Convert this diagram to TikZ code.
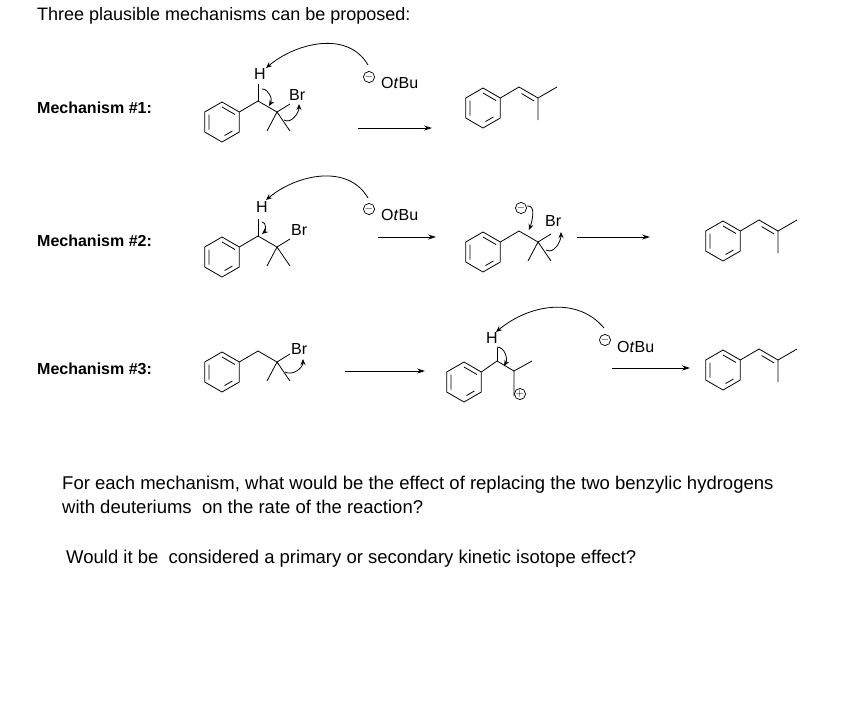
\documentclass[tikz,border=0pt]{standalone}
\usepackage{fontspec}
\setmainfont{Liberation Sans}
\usetikzlibrary{arrows.meta,calc}
\tikzset{bond/.style={line width=0.8pt},
 rxn/.style={line width=0.8pt,-{Stealth[length=8pt,width=5pt]}},
 curly/.style={line width=0.8pt,-{Stealth[length=6pt,width=5pt]}},
 chg/.style={circle,draw,line width=0.7pt,inner sep=0pt,minimum size=11pt,font=\fontsize{11}{11}\selectfont\bfseries},
 lab/.style={font=\fontsize{16}{18}\selectfont,inner sep=0pt},
 qt/.style={font=\fontsize{18.5}{20}\selectfont,anchor=west,inner sep=0pt},
 mech/.style={font=\fontsize{16}{18}\selectfont\bfseries,anchor=west,inner sep=0pt}}
\newcommand\benz[1]{\begin{scope}[shift={(#1)}]
 \draw[bond] (90:20)--(150:20)--(210:20)--(270:20)--(330:20)--(30:20)--cycle;
 \draw[bond,shorten >=3pt,shorten <=3pt] (150:15)--(210:15) (270:15)--(330:15) (30:15)--(90:15);
\end{scope}}
\newcommand\tertBr[1]{%
 \begin{scope}[shift={(#1)}]
 \draw[bond] (17.3,-10)--(36,-21)--(55,-10)--(68,-18);
 \draw[bond] (55,-10)--(45,9) (55,-10)--(68,9);
 \end{scope}}
\newcommand\alkene[1]{\begin{scope}[shift={(#1)}]
 \draw[bond] (17.3,-10)--(36,-21)--(55,-10)--(74,-21) (55,-10)--(55,12);
 \draw[bond,shorten <=3pt,shorten >=1pt] (36,-16)--(52,-6.5);
\end{scope}}
\begin{document}
\begin{tikzpicture}[x=1pt,y=-1pt]
\useasboundingbox (0,0) rectangle (848,702);
\node[anchor=west,inner sep=0pt,font=\fontsize{18}{20}\selectfont] (title) at (37,16) {Three plausible mechanisms can be proposed:};
\node[mech] (m1) at (37,108) {Mechanism \#1:};
\node[mech] (m2) at (37,241) {Mechanism \#2:};
\node[mech] (m3) at (37,369) {Mechanism \#3:};
% ---- Mechanism 1
\benz{222,122}\tertBr{222,122}
\draw[bond] (258,101)--(258,84);
\node[lab] (h1) at (260,74) {H};
\node[lab,anchor=west] (br1) at (289,95) {Br};
\draw[curly] (262,89) to[out=0,in=60] (269,106);
\draw[curly] (284,120) to[out=-30,in=-90] (299,104);
\node[chg] (c1) at (369,77) {$-$};
\node[lab,anchor=west] (o1) at (381,83) {O\textit{t}Bu};
\draw[curly] (368,65) to[out=120,in=40] (266,68);
\draw[rxn] (358,128)--(432,128);
\benz{483,108}\alkene{483,108}
% ---- Mechanism 2
\benz{222,257}\tertBr{222,257}
\draw[bond] (258,236)--(258,219);
\node[lab] (h2) at (262,207) {H};
\node[lab,anchor=west] (br2) at (291,230) {Br};
\draw[curly] (262,222) to[out=0,in=40] (262,234);
\node[chg] (c2) at (369,209) {$-$};
\node[lab,anchor=west] (o2) at (381,215) {O\textit{t}Bu};
\draw[curly] (368,198) to[out=120,in=40] (266,200);
\draw[rxn] (378,237)--(436,237);
\benz{483,252}\tertBr{483,252}
\node[chg] (c3) at (521,208) {$-$};
\draw[curly] (527,206) to[out=10,in=70] (529,230);
\node[lab,anchor=west] (br3) at (545,221) {Br};
\draw[curly] (546,250) to[out=-30,in=-90] (561,232);
\draw[rxn] (577,237)--(650,237);
\benz{723,241}\alkene{723,241}
% ---- Mechanism 3
\benz{222,372}\tertBr{222,372}
\node[lab,anchor=west] (br4) at (291,349) {Br};
\draw[curly] (285,372) to[out=-30,in=-90] (303,359);
\draw[rxn] (345,371)--(425,371);
\benz{464,382}
\begin{scope}[shift={(464,382)}]
\draw[bond] (17.3,-10)--(33,-21)--(50,-11)--(68,-21) (50,-11)--(50,14);
\draw[bond] (33,-21)--(33,-34);
\end{scope}
\node[lab] (h3) at (492,338) {H};
\draw[curly] (497,347) to[out=0,in=60] (504,366);
\node[chg] (c4) at (520,394) {$+$};
\node[chg] (c5) at (605,340) {$-$};
\node[lab,anchor=west] (o3) at (617,347) {O\textit{t}Bu};
\draw[curly] (604,328) to[out=130,in=40] (496,332);
\draw[rxn] (612,368)--(690,368);
\benz{723,370}\alkene{723,370}
% ---- questions
\node[qt] (q1) at (62,485) {For each mechanism, what would be the effect of replacing the two benzylic hydrogens};
\node[qt] (q2) at (62,507) {with deuteriums \ on the rate of the reaction?};
\node[qt] (q3) at (66,559) {Would it be \ considered a primary or secondary kinetic isotope effect?};
\end{tikzpicture}
\end{document}
